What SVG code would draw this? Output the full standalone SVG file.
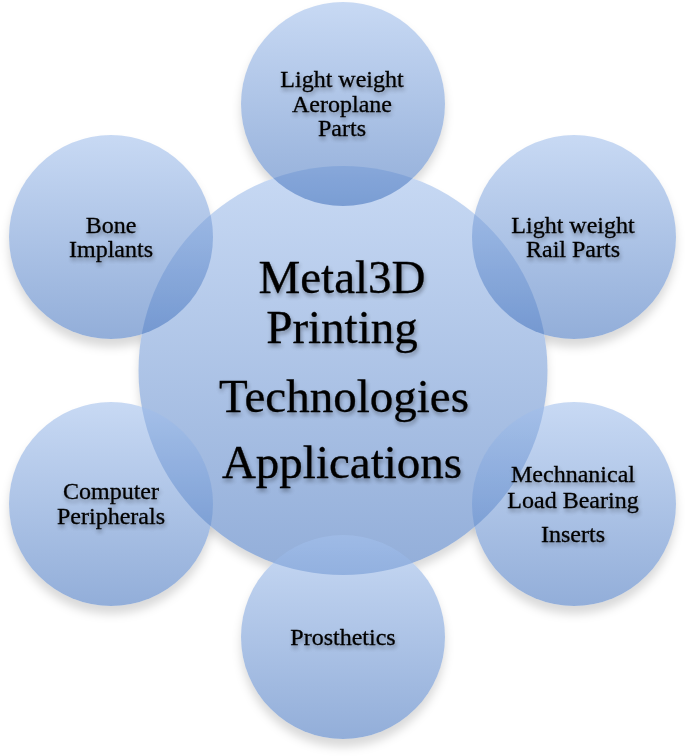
<svg xmlns="http://www.w3.org/2000/svg" width="685" height="756" viewBox="0 0 685 756">
  <defs>
    <linearGradient id="g" x1="0" y1="0" x2="0" y2="1">
      <stop offset="0" stop-color="#a3c0ec"/>
      <stop offset="1" stop-color="#4a78c0"/>
    </linearGradient>
    <filter id="sh" x="-20%" y="-20%" width="140%" height="150%">
      <feGaussianBlur stdDeviation="5"/>
    </filter>
    <filter id="ts" x="-10%" y="-30%" width="120%" height="170%">
      <feDropShadow dx="1" dy="3" stdDeviation="2" flood-color="#000" flood-opacity="0.35"/>
    </filter>
    <mask id="outside">
      <rect width="685" height="756" fill="#fff"/>
      <circle cx="343" cy="370.5" r="204.5" fill="#000"/>
      <circle cx="343" cy="104" r="102" fill="#000"/>
      <circle cx="111" cy="237" r="102" fill="#000"/>
      <circle cx="574" cy="237" r="102" fill="#000"/>
      <circle cx="111" cy="504" r="102" fill="#000"/>
      <circle cx="574" cy="504" r="102" fill="#000"/>
      <circle cx="343" cy="637" r="102" fill="#000"/>
    </mask>
  </defs>
  <style>
    .c { fill: url(#g); fill-opacity: 0.6; }
    .s { fill: #000; opacity: 0.15; }
    text { font-family: "Liberation Serif", "Times New Roman", serif; fill: #000; stroke: #000; stroke-width: 0.3px; text-anchor: middle; filter: url(#ts); }
    .sm { font-size: 24px; }
    .big { font-size: 47px; }
  </style>
  <rect width="685" height="756" fill="#fff"/>
  <g id="shadows" mask="url(#outside)">
    <g filter="url(#sh)">
      <circle class="s" cx="343" cy="378" r="204"/>
      <circle class="s" cx="343" cy="111" r="102"/>
      <circle class="s" cx="111" cy="245" r="102"/>
      <circle class="s" cx="574" cy="245" r="102"/>
      <circle class="s" cx="111" cy="512" r="102"/>
      <circle class="s" cx="574" cy="512" r="102"/>
      <circle class="s" cx="343" cy="645" r="102"/>
    </g>
  </g>
  <g id="connectors"></g>
  <g id="node-center">
    <circle class="c" cx="343" cy="370.5" r="204.5"/>
    <text class="big" x="342" y="293">Metal3D</text>
    <text class="big" x="342" y="343">Printing</text>
    <text class="big" x="344" y="412">Technologies</text>
    <text class="big" x="342" y="478">Applications</text>
  </g>
  <g id="node-aeroplane">
    <circle class="c" cx="343" cy="104" r="102"/>
    <text class="sm" x="342" y="87">Light weight</text>
    <text class="sm" x="342" y="112">Aeroplane</text>
    <text class="sm" x="342" y="136">Parts</text>
  </g>
  <g id="node-bone">
    <circle class="c" cx="111" cy="237" r="102"/>
    <text class="sm" x="111" y="233">Bone</text>
    <text class="sm" x="111" y="257">Implants</text>
  </g>
  <g id="node-rail">
    <circle class="c" cx="574" cy="237" r="102"/>
    <text class="sm" x="573" y="233">Light weight</text>
    <text class="sm" x="573" y="257">Rail Parts</text>
  </g>
  <g id="node-computer">
    <circle class="c" cx="111" cy="504" r="102"/>
    <text class="sm" x="111" y="499">Computer</text>
    <text class="sm" x="111" y="524">Peripherals</text>
  </g>
  <g id="node-mechanical">
    <circle class="c" cx="574" cy="504" r="102"/>
    <text class="sm" x="573" y="482">Mechnanical</text>
    <text class="sm" x="573" y="508">Load Bearing</text>
    <text class="sm" x="573" y="542">Inserts</text>
  </g>
  <g id="node-prosthetics">
    <circle class="c" cx="343" cy="637" r="102"/>
    <text class="sm" x="343" y="645">Prosthetics</text>
  </g>
</svg>
